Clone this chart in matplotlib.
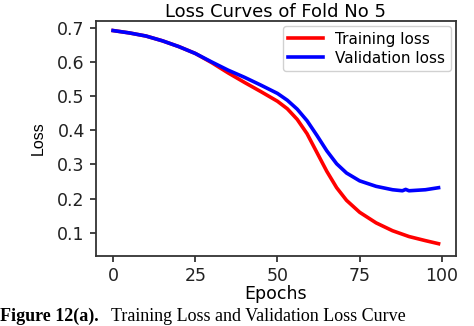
import numpy as np
import matplotlib
matplotlib.use("Agg")
import matplotlib.pyplot as plt

# values
epochs = [0, 5, 10, 15, 20, 25, 30, 35, 40, 45, 50, 53, 56, 59, 62, 65, 68, 71, 75, 80, 85, 90, 95, 99]
train_loss = [0.692, 0.685, 0.676, 0.662, 0.645, 0.625, 0.598, 0.568, 0.540, 0.513, 0.485,
              0.463, 0.432, 0.390, 0.335, 0.280, 0.232, 0.195, 0.160, 0.129, 0.106, 0.089,
              0.077, 0.068]
val_epochs = [0, 5, 10, 15, 20, 25, 30, 35, 40, 45, 50, 53, 56, 59, 62, 65, 68, 71, 75, 80,
              85, 88, 89, 90, 95, 99]
val_loss = [0.692, 0.685, 0.676, 0.662, 0.645, 0.625, 0.600, 0.576, 0.555, 0.532, 0.508,
            0.488, 0.462, 0.428, 0.385, 0.340, 0.302, 0.275, 0.252, 0.236, 0.226, 0.223,
            0.227, 0.223, 0.226, 0.232]

xticks = [0, 25, 50, 75, 100]
yticks = [0.1, 0.2, 0.3, 0.4, 0.5, 0.6, 0.7]

fig = plt.figure(figsize=(4.74, 3.26), dpi=100)
ax = fig.add_axes([0.2025, 0.2147, 0.7595, 0.7209])

ax.plot(epochs, train_loss, color='#ff0000', linewidth=2.6, label='Training loss')
ax.plot(val_epochs, val_loss, color='#0000ff', linewidth=2.6, label='Validation loss')

ax.set_xlim(-5.2, 104.3)
ax.set_ylim(0.032, 0.72)
ax.set_xticks(xticks)
ax.set_yticks(yticks)
ax.tick_params(labelsize=12.5, length=4, width=1.2, colors='#222222', pad=4)
for s in ax.spines.values():
    s.set_color('#333333')
    s.set_linewidth(1.3)

ax.set_title('Loss Curves of Fold No 5', fontsize=13, pad=3)
ax.set_xlabel('Epochs', fontsize=12.5, labelpad=0)
ax.set_ylabel('Loss', fontsize=11.5, family='Liberation Sans', labelpad=8)
ax.legend(loc='upper right', fontsize=11, handlelength=2.3, borderaxespad=0.35,
          borderpad=0.35, labelspacing=0.25, framealpha=0.9, edgecolor='#cccccc')

fig.text(0.0, 0.004, 'Figure 12(a).', fontsize=13, family='Liberation Serif',
         weight='bold', va='bottom', ha='left')
fig.text(0.235, 0.004, 'Training Loss and Validation Loss Curve', fontsize=13,
         family='Liberation Serif', va='bottom', ha='left')

plt.savefig('out.png', dpi=100)
